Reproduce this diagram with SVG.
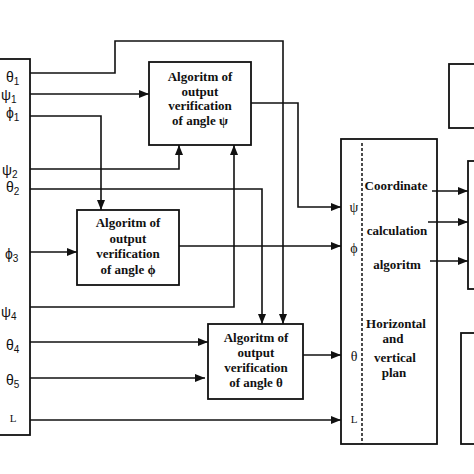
<svg xmlns="http://www.w3.org/2000/svg" width="474" height="474" viewBox="0 0 474 474">
<defs>
<marker id="ah" markerUnits="userSpaceOnUse" markerWidth="10" markerHeight="8" viewBox="0 0 10 8" refX="10" refY="4" orient="auto">
<path d="M0,0 L10,4 L0,8 Z" fill="#111"/>
</marker>
</defs>
<style>
.box{fill:#fff;stroke:#111;stroke-width:1.8}
.ln{fill:none;stroke:#111;stroke-width:1.5}
.ar{fill:none;stroke:#111;stroke-width:1.6;marker-end:url(#ah)}
.bt{font-family:"Liberation Serif","Times New Roman",serif;font-weight:bold;font-size:13px;fill:#111;text-anchor:middle}
.gl{font-family:"Liberation Sans",Arial,sans-serif;font-size:14px;fill:#111}
.gs{font-family:"Liberation Serif","Times New Roman",serif;font-size:14px;fill:#111;text-anchor:middle}
.sub{font-size:10px}
</style>
<rect width="474" height="474" fill="#fff"/>

<g id="inputs">
<rect class="box" x="-5" y="59" width="35" height="376"/>
<text class="gl" x="6" y="82">θ<tspan class="sub" dy="3">1</tspan></text>
<text class="gl" x="1" y="100">ψ<tspan class="sub" dy="3">1</tspan></text>
<text class="gl" x="6" y="118">ϕ<tspan class="sub" dy="3">1</tspan></text>
<text class="gl" x="2" y="175">ψ<tspan class="sub" dy="3">2</tspan></text>
<text class="gl" x="6" y="192">θ<tspan class="sub" dy="3">2</tspan></text>
<text class="gl" x="5" y="259">ϕ<tspan class="sub" dy="3">3</tspan></text>
<text class="gl" x="1" y="317">ψ<tspan class="sub" dy="3">4</tspan></text>
<text class="gl" x="6" y="350">θ<tspan class="sub" dy="3">4</tspan></text>
<text class="gl" x="6" y="385">θ<tspan class="sub" dy="3">5</tspan></text>
<text class="gs" x="13" y="422" style="font-size:11px">L</text>
</g>

<g id="psi-box">
<rect class="box" x="149" y="62" width="102" height="83"/>
<text class="bt" x="200" y="81">Algoritm of</text>
<text class="bt" x="200" y="96">output</text>
<text class="bt" x="200" y="110">verification</text>
<text class="bt" x="200" y="125">of angle ψ</text>
</g>

<g id="phi-box">
<rect class="box" x="77" y="210" width="102" height="75"/>
<text class="bt" x="128" y="227">Algoritm of</text>
<text class="bt" x="128" y="243">output</text>
<text class="bt" x="128" y="258">verification</text>
<text class="bt" x="128" y="274">of angle ϕ</text>
</g>

<g id="theta-box">
<rect class="box" x="208" y="324" width="95" height="75"/>
<text class="bt" x="256" y="342">Algoritm of</text>
<text class="bt" x="256" y="357">output</text>
<text class="bt" x="256" y="372">verification</text>
<text class="bt" x="256" y="387">of angle θ</text>
</g>

<g id="main-box">
<rect class="box" x="341" y="139" width="96" height="305"/>
<line x1="362" y1="143" x2="362" y2="444" stroke="#111" stroke-width="1.5" stroke-dasharray="3,2"/>
<text class="gs" x="354" y="212">ψ</text>
<text class="gs" x="354" y="253">ϕ</text>
<text class="gs" x="354" y="361">θ</text>
<text class="gs" x="354" y="423" style="font-size:11px">L</text>
<text class="bt" x="396" y="190">Coordinate</text>
<text class="bt" x="397" y="235">calculation</text>
<text class="bt" x="397" y="269">algoritm</text>
<text class="bt" x="396" y="328">Horizontal</text>
<text class="bt" x="393" y="343">and</text>
<text class="bt" x="395" y="362">vertical</text>
<text class="bt" x="394" y="377">plan</text>
</g>

<g id="right-top">
<rect class="box" x="449" y="64" width="40" height="64"/>
</g>
<g id="right-mid">
<rect class="box" x="468" y="161" width="20" height="128"/>
</g>
<g id="right-bottom">
<rect class="box" x="461" y="333" width="30" height="111"/>
</g>

<g id="connectors">
<path class="ar" d="M30,73 H115 V41 H283 V324"/>
<path class="ar" d="M30,94 H149"/>
<path class="ar" d="M30,116 H101 V210"/>
<path class="ar" d="M30,169 H179 V145"/>
<path class="ar" d="M30,189 H262 V324"/>
<path class="ar" d="M30,307 H234 V145"/>
<path class="ar" d="M30,252 H77"/>
<path class="ar" d="M30,342 H208"/>
<path class="ar" d="M30,378 H205"/>
<path class="ar" d="M30,420 H341"/>
<path class="ar" d="M251,103 H298 V207 H341"/>
<path class="ar" d="M179,246 H341"/>
<path class="ar" d="M303,355 H341"/>
<path class="ar" d="M432,191 H468"/>
<path class="ar" d="M428,222 H468"/>
<path class="ar" d="M430,261 H468"/>
</g>
</svg>
